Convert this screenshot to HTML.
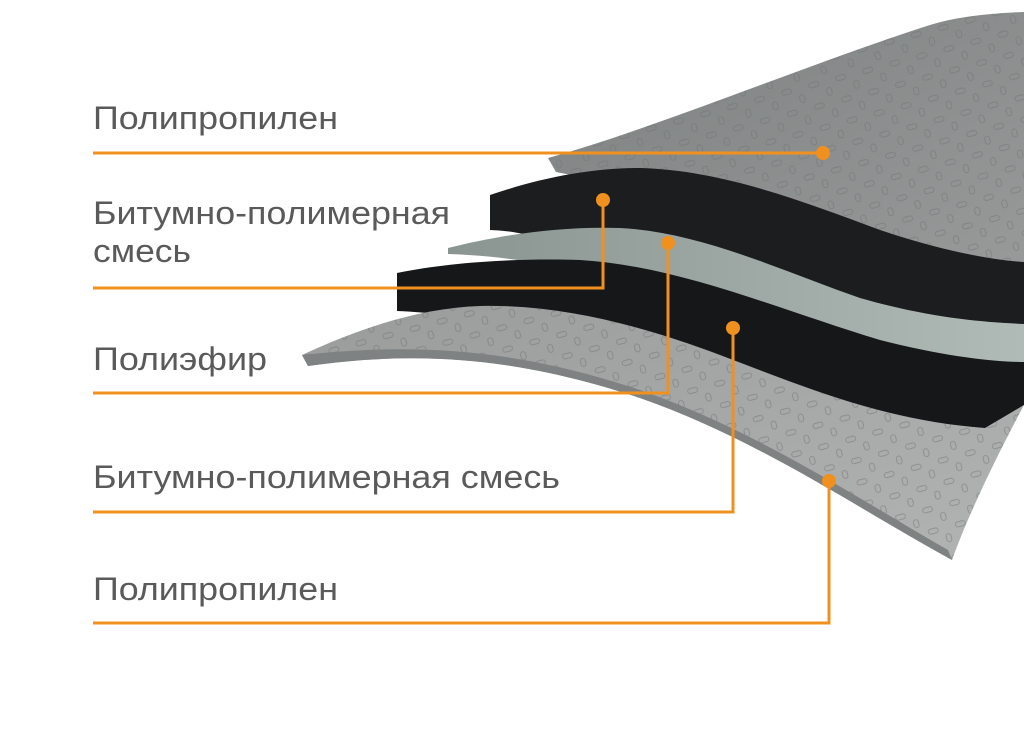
<!DOCTYPE html>
<html><head><meta charset="utf-8"><style>
html,body{margin:0;padding:0;background:#fff;}
svg{display:block;}
text{font-family:"Liberation Sans",sans-serif;font-size:32px;fill:#5a5a5a;}
</style></head><body>
<svg width="1024" height="735" viewBox="0 0 1024 735" xmlns="http://www.w3.org/2000/svg">
<defs>
<linearGradient id="g1" x1="0" y1="0" x2="1" y2="1"><stop offset="0" stop-color="#7d8080"/><stop offset="1" stop-color="#999b9b"/></linearGradient>
<linearGradient id="g5" x1="0" y1="0" x2="1" y2="1"><stop offset="0" stop-color="#9a9c9c"/><stop offset="1" stop-color="#b2b4b4"/></linearGradient>
<linearGradient id="gp" x1="0" y1="0" x2="1" y2="0"><stop offset="0" stop-color="#8a9592"/><stop offset="1" stop-color="#b0bbb7"/></linearGradient>
<pattern id="dots" width="28" height="22" patternUnits="userSpaceOnUse" patternTransform="rotate(-15)">
<rect x="3" y="4" width="10" height="5" rx="2.5" fill="none" stroke="#6f7272" stroke-width="1"/>
<rect x="19" y="13" width="5" height="8" rx="2.5" fill="none" stroke="#6f7272" stroke-width="1"/>
</pattern>
</defs>
<!-- top gray sheet -->
<path d="M548,158 C650,130 820,60 930,25 Q965,14 1024,12 L1024,290 L700,200 L556,172 Z" fill="url(#g1)"/>
<path d="M548,158 C650,130 820,60 930,25 Q965,14 1024,12 L1024,290 L700,200 L556,172 Z" fill="url(#dots)" opacity="0.5"/>
<!-- black layer 2 -->
<path d="M490,195 C540,178 590,168 640,168 C720,170 800,200 880,230 C940,250 990,260 1024,262 L1024,350 L600,262 C550,238 520,231 490,230 Z" fill="#1c1d1e"/>
<!-- polyester -->
<path d="M448,248 C500,235 560,226 620,228 C700,232 780,270 860,298 C930,318 980,322 1024,324 L1024,400 L620,290 C560,262 500,256 448,254 Z" fill="url(#gp)"/>
<!-- black layer 4 -->
<path d="M397,273 C450,262 520,258 580,260 C680,266 780,310 880,340 C950,358 1000,362 1024,362 L1024,405 L985,430 L900,440 C700,380 520,315 397,311 Z" fill="#161718"/>
<!-- bottom gray sheet -->
<path id="bs" d="M302,355 C360,328 420,308 480,306 C560,304 640,325 720,355 C800,385 880,420 985,428 L1024,405 C1000,450 970,510 952,560 C860,510 760,440 640,398 C520,358 420,350 308,366 Z" fill="url(#g5)"/>
<path d="M302,355 C360,328 420,308 480,306 C560,304 640,325 720,355 C800,385 880,420 985,428 L1024,405 C1000,450 970,510 952,560 C860,510 760,440 640,398 C520,358 420,350 308,366 Z" fill="url(#dots)" opacity="0.5"/>
<path d="M302,355 L308,366 C420,350 520,358 640,398 C760,440 860,510 952,560 L948,550 C860,500 760,432 640,390 C520,350 420,342 302,355Z" fill="#7f8282"/>
<!-- lines -->
<g stroke="#f0901e" stroke-width="3" fill="none">
<path d="M93,153 H823"/>
<path d="M93,288 H603 V200"/>
<path d="M93,393 H668 V243"/>
<path d="M93,512 H733 V328"/>
<path d="M93,623 H829 V481"/>
</g>
<g fill="#f0901e">
<circle cx="823" cy="153" r="7"/>
<circle cx="603" cy="200" r="7"/>
<circle cx="668" cy="243" r="7"/>
<circle cx="733" cy="328" r="7"/>
<circle cx="829" cy="481" r="7"/>
</g>
<text x="93" y="129" textLength="245" lengthAdjust="spacingAndGlyphs">Полипропилен</text>
<text x="93" y="224" textLength="357" lengthAdjust="spacingAndGlyphs">Битумно-полимерная</text>
<text x="93" y="262" textLength="98" lengthAdjust="spacingAndGlyphs">смесь</text>
<text x="93" y="370" textLength="174" lengthAdjust="spacingAndGlyphs">Полиэфир</text>
<text x="93" y="488" textLength="467" lengthAdjust="spacingAndGlyphs">Битумно-полимерная смесь</text>
<text x="93" y="600" textLength="245" lengthAdjust="spacingAndGlyphs">Полипропилен</text>
</svg>
</body></html>
